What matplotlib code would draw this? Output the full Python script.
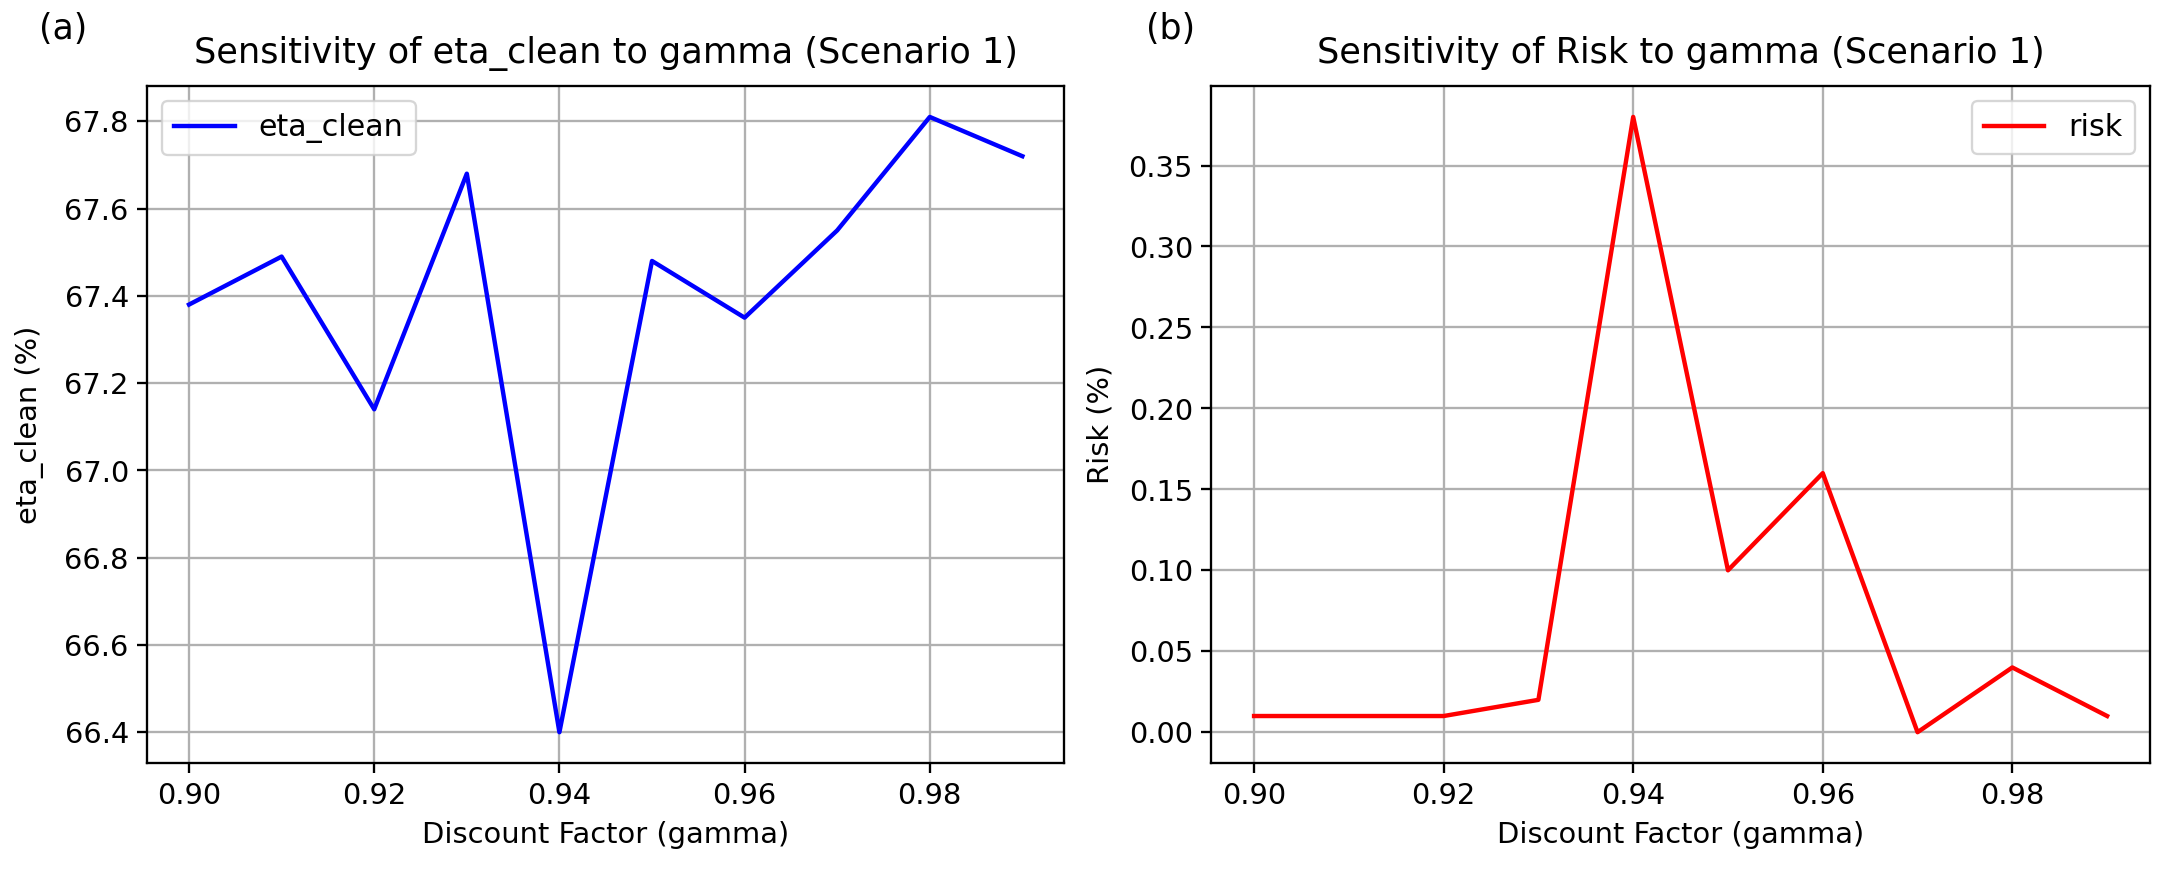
import matplotlib
matplotlib.use("Agg")
import matplotlib.pyplot as plt

# gamma sweep, scenario 1
gammas = [0.90, 0.91, 0.92, 0.93, 0.94, 0.95, 0.96, 0.97, 0.98, 0.99]
eta_clean = [67.38, 67.49, 67.14, 67.68, 66.40, 67.48, 67.35, 67.55, 67.81, 67.72]
risk = [0.01, 0.01, 0.01, 0.02, 0.38, 0.10, 0.16, 0.00, 0.04, 0.01]

plt.rcParams.update({
    'font.size': 12.5,
    'axes.linewidth': 1.0,
    'grid.linewidth': 1.0,
    'xtick.major.width': 1.0,
    'ytick.major.width': 1.0,
    'xtick.major.size': 4.5,
    'ytick.major.size': 4.5,
})

fig = plt.figure(figsize=(13.0, 5.232), dpi=166.7)
ax1 = fig.add_axes([0.068, 0.125, 0.423, 0.776])
ax2 = fig.add_axes([0.559, 0.125, 0.433, 0.776])

# (a) eta_clean
ax1.plot(gammas, eta_clean, color='blue', linewidth=1.9, label='eta_clean')
ax1.set_title("Sensitivity of eta_clean to gamma (Scenario 1)", fontsize=15.2, pad=10)
ax1.set_xlabel("Discount Factor (gamma)", labelpad=5)
ax1.set_ylabel("eta_clean (%)", labelpad=9)
ax1.grid(True)
ax1.legend(loc='upper left', fontsize=13)

# (b) risk
ax2.plot(gammas, risk, color='red', linewidth=1.9, label='risk')
ax2.set_title("Sensitivity of Risk to gamma (Scenario 1)", fontsize=15.2, pad=10)
ax2.set_xlabel("Discount Factor (gamma)", labelpad=5)
ax2.set_ylabel("Risk (%)", labelpad=6)
ax2.grid(True)
ax2.legend(loc='upper right', fontsize=13)

fig.text(0.018, 0.955, "(a)", fontsize=15)
fig.text(0.529, 0.955, "(b)", fontsize=15)

fig.savefig("out.png", dpi=166.7)
